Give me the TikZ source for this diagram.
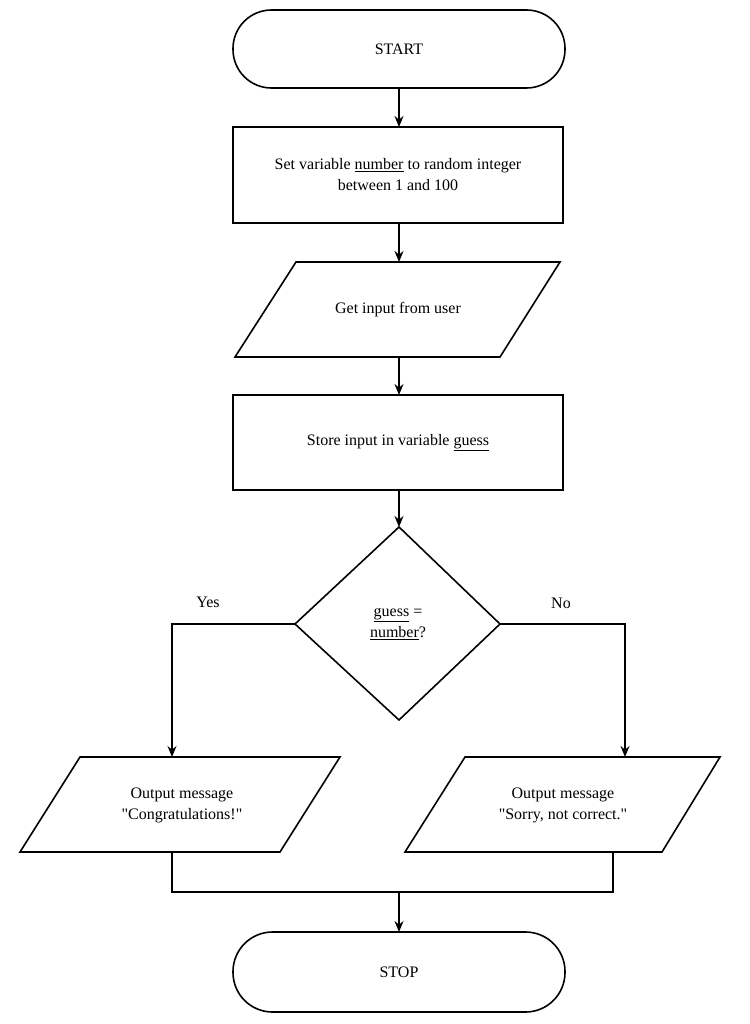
\documentclass[tikz,border=0pt]{standalone}
\usepackage{fontspec}
\setmainfont{Liberation Serif}
\usetikzlibrary{arrows.meta}
\begin{document}
\begin{tikzpicture}[x=1pt,y=-1pt,
  shp/.style={draw=black,line width=1.6pt,fill=white},
  lbl/.style={font=\fontsize{16}{21}\selectfont,align=center},
  arr/.style={line width=1.6pt,-{Stealth[length=11pt,width=9pt]}},
  ln/.style={line width=1.6pt}]
\useasboundingbox (0,0) rectangle (749,1024);
% START
\draw[shp,rounded corners=38.5pt] (233,10) rectangle (565,88);
\node[lbl] (start) at (399,49) {START};
\coordinate (startB) at (399,88);
% Box1
\draw[shp] (233,127) rectangle (563,223);
\node[lbl] (set) at (398,175) {Set variable \underline{number} to random integer\\between 1 and 100};
\coordinate (setT) at (399,127); \coordinate (setB) at (399,223);
% input
\draw[shp] (296,262) -- (560,262) -- (500,357) -- (235,357) -- cycle;
\node[lbl] (inp) at (398,310) {Get input from user};
\coordinate (inpT) at (399,262); \coordinate (inpB) at (399,357);
% Box2
\draw[shp] (233,395) rectangle (563,490);
\node[lbl] (store) at (398,443) {Store input in variable \underline{guess}};
\coordinate (stT) at (399,395); \coordinate (stB) at (399,490);
% diamond
\draw[shp] (399,527) -- (500,624) -- (399,720) -- (295,624) -- cycle;
\node[lbl] (dec) at (398,624) {\underline{guess} =\\\underline{number}?};
\coordinate (dT) at (399,527); \coordinate (dL) at (295,624); \coordinate (dR) at (500,624);
\node[lbl] (yes) at (208,602) {Yes};
\node[lbl] (no) at (561,603) {No};
% outputs
\draw[shp] (80,757) -- (340,757) -- (280,852) -- (20,852) -- cycle;
\node[lbl] (cong) at (182,805) {Output message\\\textquotedbl Congratulations!\textquotedbl};
\draw[shp] (465,757) -- (720,757) -- (662,852) -- (405,852) -- cycle;
\node[lbl] (sorry) at (563,805) {Output message\\\textquotedbl Sorry, not correct.\textquotedbl};
\coordinate (cT) at (172,757); \coordinate (cB) at (172,852);
\coordinate (sT) at (625,757); \coordinate (sB) at (613,852);
\coordinate (mid) at (399,892);
% STOP
\draw[shp,rounded corners=39.5pt] (233,932) rectangle (565,1012);
\node[lbl] (stop) at (399,972) {STOP};
\coordinate (stopT) at (399,932);
% connectors
\draw[arr] (startB) -- (setT);
\draw[arr] (setB) -- (inpT);
\draw[arr] (inpB) -- (stT);
\draw[arr] (stB) -- (dT);
\draw[arr] (dL) -| (cT);
\draw[arr] (dR) -| (sT);
\draw[ln] (cB) |- (mid) -| (sB);
\draw[arr] (mid) -- (stopT);
\end{tikzpicture}
\end{document}
